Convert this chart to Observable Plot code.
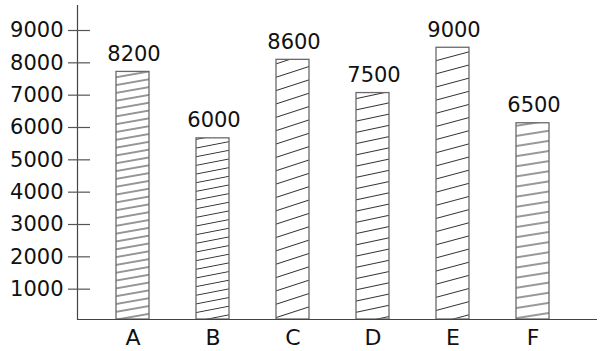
<!DOCTYPE html>
<html>
<head>
<meta charset="utf-8">
<script src="https://cdn.jsdelivr.net/npm/d3@7"></script>
<script src="https://cdn.jsdelivr.net/npm/@observablehq/plot@0.6"></script>
<style>
  html, body { margin: 0; padding: 0; background: #fff; }
  #wrap { position: relative; width: 601px; height: 351px; overflow: hidden; }
  #wrap svg { position: absolute; top: 0; left: 0; }
</style>
</head>
<body>
<div id="wrap"></div>
<script>
// Data
const categories = ["A", "B", "C", "D", "E", "F"];
const values = [8200, 6000, 8600, 7500, 9000, 6500];
const tickValues = [1000, 2000, 3000, 4000, 5000, 6000, 7000, 8000, 9000];

// Hatch styling per bar (gap in px, angle in degrees)
const hatchGap = [7.7, 8.5, 12.7, 11, 12.7, 10];
const hatchAngle = [10, 11, 18, 12, 15, 9];

const rows = categories.map((c, i) => ({category: c, value: values[i], idx: i}));
const font = "'DejaVu Sans', Verdana, sans-serif";

const bars = Plot.plot({
  width: 601,
  height: 351,
  marginLeft: 77,
  marginRight: 4,
  marginTop: 5,
  marginBottom: 32,
  style: {fontFamily: font, background: "transparent", color: "#111"},
  x: {domain: categories, paddingInner: 0.589, paddingOuter: 0.534, align: 0.45},
  y: {domain: [0, 10400], axis: null},
  color: {type: "identity"},
  marks: [
    Plot.barY(rows, {
      x: "category",
      y: "value",
      fill: d => `url(#hatch${d.idx})`,
      stroke: "#6a6a6a",
      strokeWidth: 1.3
    }),
    Plot.text(rows, {
      x: "category",
      y: "value",
      text: d => String(d.value),
      lineAnchor: "bottom",
      dy: -11,
      dx: 1,
      fontSize: 21,
      fill: "#111"
    }),
    Plot.frame({anchor: "left", stroke: "#444", strokeWidth: 1.2}),
    Plot.ruleY([0], {stroke: "#444", strokeWidth: 1.2}),
    Plot.axisX({tickSize: 0, tickPadding: 10, fontSize: 22, label: null, fill: "#111"})
  ]
});

// hatch patterns
const defs = d3.select(bars).insert("defs", ":first-child");
categories.forEach((c, i) => {
  const g = hatchGap[i];
  const p = defs.append("pattern")
    .attr("id", `hatch${i}`)
    .attr("patternUnits", "userSpaceOnUse")
    .attr("width", 20)
    .attr("height", g)
    .attr("patternTransform", `rotate(${-hatchAngle[i]})`);
  p.append("rect").attr("width", 20).attr("height", g).attr("fill", "#fff");
  p.append("line")
    .attr("x1", 0).attr("x2", 20)
    .attr("y1", g / 2).attr("y2", g / 2)
    .attr("stroke", "#333").attr("stroke-width", 1);
});

const axis = Plot.plot({
  width: 90,
  height: 351,
  marginLeft: 68,
  marginRight: 0,
  marginTop: 30,
  marginBottom: 30,
  style: {fontFamily: font, background: "transparent", color: "#111", overflow: "visible"},
  x: {axis: null},
  y: {domain: [0, 9000], axis: null},
  marks: [
    Plot.tickY(tickValues, {y: d => d, stroke: "#555", strokeWidth: 1.2}),
    Plot.axisY(tickValues, {tickSize: 0, tickPadding: 5, fontSize: 21, label: null, fill: "#111", tickFormat: d => String(d)})
  ]
});

const wrap = document.getElementById("wrap");
wrap.appendChild(bars);
wrap.appendChild(axis);
</script>
</body>
</html>
